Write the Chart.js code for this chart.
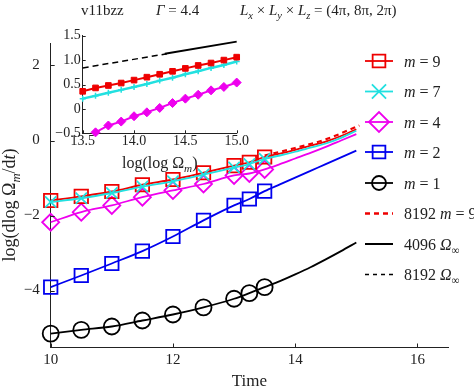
<!DOCTYPE html>
<html>
<head>
<meta charset="utf-8">
<script src="https://cdn.jsdelivr.net/npm/chart.js@4"></script>
<style>
  body { margin: 0; background: #fff; }
  #wrap { position: relative; width: 474px; height: 390px; }
  #wrap canvas { position: absolute; left: 0; top: 0; }
</style>
</head>
<body>
<div id="wrap">
  <canvas id="main" width="474" height="390"></canvas>
  <canvas id="inset" width="474" height="390"></canvas>
</div>
<script>
// ---- main panel data (marker points first, then the rest of the curve) ----
const timeMarks = [10, 10.5, 11, 11.5, 12, 12.5, 13, 13.25, 13.5, 13.75, 14, 14.25, 14.5, 14.75, 15];
const nMarked = 9;
const m9 = [-1.60, -1.49, -1.36, -1.18, -1.04, -0.86, -0.67, -0.58, -0.44, -0.35, -0.25, -0.14, -0.03, 0.12, 0.30];
const m7 = [-1.64, -1.54, -1.40, -1.23, -1.09, -0.91, -0.72, -0.63, -0.49, -0.40, -0.30, -0.19, -0.08, 0.07, 0.26];
const m4 = [-2.18, -1.91, -1.73, -1.51, -1.33, -1.16, -0.93, -0.88, -0.77, -0.63, -0.48, -0.33, -0.17, 0.00, 0.17];
const m2 = [-3.91, -3.60, -3.28, -2.95, -2.56, -2.13, -1.73, -1.56, -1.35, -1.17, -0.99, -0.81, -0.63, -0.45, -0.27];
const m1 = [-5.15, -5.05, -4.96, -4.80, -4.64, -4.45, -4.22, -4.07, -3.91, -3.75, -3.57, -3.38, -3.17, -2.95, -2.72];
const hiResTime = [13.5, 14, 14.5, 15.05];
const hiResM9 = [-0.40, -0.20, 0.03, 0.40];

// ---- inset data ----
const insetX = [13.5, 13.625, 13.75, 13.875, 14.0, 14.125, 14.25, 14.375, 14.5, 14.625, 14.75, 14.875, 15.0];
const insetM9 = [0.36, 0.43, 0.48, 0.53, 0.59, 0.65, 0.71, 0.77, 0.83, 0.89, 0.94, 1.00, 1.06];
const insetM7 = [0.21, 0.27, 0.33, 0.39, 0.45, 0.51, 0.58, 0.64, 0.71, 0.77, 0.84, 0.90, 0.97];
const insetM4X = [13.625, 13.75, 13.875, 14.0, 14.125, 14.25, 14.375, 14.5, 14.625, 14.75, 14.875, 15.0];
const insetM4 = [-0.48, -0.34, -0.26, -0.15, -0.07, 0.02, 0.12, 0.21, 0.29, 0.38, 0.45, 0.54];
const omegaDashX = [13.5, 14.32];
const omegaDash = [0.84, 1.13];
const omegaSolidX = [14.3, 15.0];
const omegaSolid = [1.13, 1.38];

const SERIF = '"Liberation Serif", "DejaVu Serif", serif';
const INK = '#222';

function pts(xs, ys) {
  return xs.map((x, i) => ({ x: x, y: ys[i] }));
}

function minus(v, digits) {
  const s = digits ? Math.abs(v).toFixed(digits) : String(Math.abs(v));
  if (Math.abs(v) < 1e-9) return '0';
  return v < 0 ? '\u2212' + s : s;
}

// text made of pieces: [text, style] where style is '', 'i', 'sub' or 'isub'
function runsWidth(ctx, runs, size) {
  let w = 0;
  for (const [t, s] of runs) {
    const fs = s.includes('sub') ? size * 0.7 : size;
    ctx.font = (s.includes('i') ? 'italic ' : '') + fs + 'px ' + SERIF;
    w += ctx.measureText(t).width;
  }
  return w;
}

function drawRuns(ctx, runs, x, y, size) {
  let cx = x;
  ctx.textAlign = 'left';
  ctx.textBaseline = 'alphabetic';
  for (const [t, s] of runs) {
    const sub = s.includes('sub');
    const fs = sub ? size * 0.7 : size;
    ctx.font = (s.includes('i') ? 'italic ' : '') + fs + 'px ' + SERIF;
    ctx.fillText(t, cx, y + (sub ? size * 0.25 : 0));
    cx += ctx.measureText(t).width;
  }
  return cx;
}

// MATLAB style ticks pointing into the plot
const inTicks = {
  id: 'inTicks',
  afterDraw(chart, args, opts) {
    const ctx = chart.ctx;
    const area = chart.chartArea;
    const xs = chart.scales.x, ys = chart.scales.y;
    const len = opts.len || 4;
    ctx.save();
    ctx.strokeStyle = INK;
    ctx.lineWidth = 1;
    ctx.beginPath();
    xs.ticks.forEach(t => {
      const px = Math.round(xs.getPixelForValue(t.value)) + 0.5;
      ctx.moveTo(px, area.bottom);
      ctx.lineTo(px, area.bottom - len);
    });
    ys.ticks.forEach(t => {
      const py = Math.round(ys.getPixelForValue(t.value)) + 0.5;
      ctx.moveTo(area.left, py);
      ctx.lineTo(area.left + len, py);
    });
    ctx.stroke();
    ctx.restore();
  }
};

// legend entries for the right hand side
const legendItems = [
  { color: '#ee0000', style: 'rect', r: 9, dash: [], lw: 1.8, text: [['m', 'i'], [' = 9', '']] },
  { color: '#22e0e0', style: 'crossRot', r: 10, dash: [], lw: 1.8, text: [['m', 'i'], [' = 7', '']] },
  { color: '#ee00ee', style: 'rectRot', r: 10, dash: [], lw: 1.8, text: [['m', 'i'], [' = 4', '']] },
  { color: '#0000ee', style: 'rect', r: 9, dash: [], lw: 1.8, text: [['m', 'i'], [' = 2', '']] },
  { color: '#000000', style: 'circle', r: 7, dash: [], lw: 1.8, text: [['m', 'i'], [' = 1', '']] },
  { color: '#ee0000', style: null, r: 0, dash: [5, 4], lw: 2.6, text: [['8192 ', ''], ['m', 'i'], [' = 9', '']] },
  { color: '#000000', style: null, r: 0, dash: [], lw: 2, text: [['4096 ', ''], ['\u03A9', 'i'], ['\u221E', 'sub']] },
  { color: '#000000', style: null, r: 0, dash: [4, 4], lw: 1.5, text: [['8192 ', ''], ['\u03A9', 'i'], ['\u221E', 'sub']] }
];
const legendY = [61, 91.5, 122, 152, 183, 213.5, 244, 274.5];

const mainText = {
  id: 'mainText',
  afterDraw(chart) {
    const ctx = chart.ctx;
    ctx.save();
    ctx.fillStyle = INK;

    // title
    drawRuns(ctx, [['v11bzz', '']], 81, 15, 15);
    drawRuns(ctx, [['\u0393', 'i'], [' = 4.4', '']], 156, 15, 15);
    drawRuns(ctx, [['L', 'i'], ['x', 'isub'], [' \u00D7 ', ''], ['L', 'i'], ['y', 'isub'], [' \u00D7 ', ''],
      ['L', 'i'], ['z', 'isub'], [' = (4\u03C0, 8\u03C0, 2\u03C0)', '']], 240, 15, 15);

    // x title
    const xt = [['Time', '']];
    drawRuns(ctx, xt, (chart.chartArea.left + chart.chartArea.right) / 2 - runsWidth(ctx, xt, 17) / 2, 386, 17);

    // y title
    const yt = [['log(dlog \u03A9', ''], ['m', 'isub'], ['/d', ''], ['t', 'i'], [')', '']];
    ctx.save();
    ctx.translate(15, 205);
    ctx.rotate(-Math.PI / 2);
    drawRuns(ctx, yt, -runsWidth(ctx, yt, 18) / 2, 0, 18);
    ctx.restore();

    // legend
    legendItems.forEach((it, i) => {
      const y = legendY[i];
      ctx.save();
      ctx.strokeStyle = it.color;
      ctx.lineWidth = it.lw;
      ctx.setLineDash(it.dash);
      ctx.beginPath();
      ctx.moveTo(365, y);
      ctx.lineTo(393, y);
      ctx.stroke();
      ctx.setLineDash([]);
      if (it.style) {
        ctx.fillStyle = 'rgba(0,0,0,0)';
        ctx.lineWidth = 1.8;
        Chart.helpers.drawPoint(ctx, { pointStyle: it.style, radius: it.r, rotation: 0, borderWidth: 1.8 }, 379, y);
      }
      ctx.restore();
      ctx.fillStyle = INK;
      drawRuns(ctx, it.text, 404, y + 5.5, 16);
    });
    ctx.restore();
  }
};

const insetText = {
  id: 'insetText',
  afterDraw(chart) {
    const ctx = chart.ctx;
    ctx.save();
    ctx.fillStyle = INK;
    const xl = [['log(log \u03A9', ''], ['m', 'isub'], [')', '']];
    const cx = (chart.chartArea.left + chart.chartArea.right) / 2;
    drawRuns(ctx, xl, cx - runsWidth(ctx, xl, 16) / 2, 168, 16);
    ctx.restore();
  }
};

function mainSet(values, color, style, r) {
  return {
    data: pts(timeMarks, values),
    borderColor: color,
    borderWidth: 1.8,
    pointStyle: style,
    pointRadius: c => (c.dataIndex < nMarked ? r : 0),
    pointBorderColor: color,
    pointBackgroundColor: 'rgba(0,0,0,0)',
    pointBorderWidth: 1.8,
    pointHoverRadius: 0,
    cubicInterpolationMode: 'monotone',
    clip: false,
    fill: false
  };
}

const axisBase = {
  type: 'linear',
  grid: { drawOnChartArea: false, drawTicks: false },
  border: { display: true, color: INK, width: 1 }
};

new Chart(document.getElementById('main').getContext('2d'), {
  type: 'line',
  data: {
    datasets: [
      mainSet(m7, '#22e0e0', 'crossRot', 8),
      mainSet(m9, '#ee0000', 'rect', 9.5),
      mainSet(m4, '#ee00ee', 'rectRot', 8.5),
      mainSet(m2, '#0000ee', 'rect', 9.5),
      mainSet(m1, '#000000', 'circle', 8),
      {
        data: pts(hiResTime, hiResM9),
        borderColor: '#ee0000',
        borderWidth: 2.2,
        borderDash: [5, 4],
        pointRadius: 0,
        cubicInterpolationMode: 'monotone',
        clip: false,
        fill: false
      }
    ]
  },
  options: {
    responsive: false,
    animation: false,
    events: [],
    layout: { padding: { left: 0, right: 26, top: 43, bottom: 0 } },
    scales: {
      x: Object.assign({}, axisBase, {
        min: 10, max: 16.5,
        afterFit: s => { s.height = 42.5; },
        ticks: { stepSize: 2, includeBounds: false, padding: 4, color: INK, font: { family: SERIF, size: 15 } }
      }),
      y: Object.assign({}, axisBase, {
        min: -5.52, max: 2.6,
        afterFit: s => { s.width = 50.7; },
        ticks: { stepSize: 2, includeBounds: false, padding: 11, color: INK, font: { family: SERIF, size: 15 },
          callback: v => minus(v) }
      })
    },
    plugins: { legend: { display: false }, tooltip: { enabled: false }, inTicks: { len: 4 } }
  },
  plugins: [inTicks, mainText]
});

new Chart(document.getElementById('inset').getContext('2d'), {
  type: 'line',
  data: {
    datasets: [
      {
        data: pts(insetX, insetM9),
        borderColor: '#ee0000', borderWidth: 2,
        pointStyle: 'rect', pointRadius: 4, pointBackgroundColor: '#ee0000', pointBorderColor: '#ee0000',
        pointBorderWidth: 1, pointHoverRadius: 0, clip: false
      },
      {
        data: pts(insetX, insetM7),
        borderColor: '#22e0e0', borderWidth: 2.5,
        pointStyle: 'cross', pointRadius: 3, pointBorderColor: '#22e0e0',
        pointBorderWidth: 1.5, pointHoverRadius: 0, clip: false
      },
      {
        data: pts(insetM4X, insetM4),
        borderColor: '#ee00ee', borderWidth: 2,
        pointStyle: 'rectRot', pointRadius: 4.5, pointBackgroundColor: '#ee00ee', pointBorderColor: '#ee00ee',
        pointBorderWidth: 1, pointHoverRadius: 0, clip: false
      },
      {
        data: pts(omegaDashX, omegaDash),
        borderColor: '#000000', borderWidth: 1.5, borderDash: [6, 4],
        pointRadius: 0, clip: false
      },
      {
        data: pts(omegaSolidX, omegaSolid),
        borderColor: '#000000', borderWidth: 1.8,
        pointRadius: 0, clip: false
      }
    ]
  },
  options: {
    responsive: false,
    animation: false,
    events: [],
    layout: { padding: { left: 0, right: 237.3, top: 35.7, bottom: 0 } },
    scales: {
      x: Object.assign({}, axisBase, {
        min: 13.5, max: 15.0,
        afterFit: s => { s.height = 256.7; },
        ticks: { stepSize: 0.5, includeBounds: false, padding: 0, color: INK, font: { family: SERIF, size: 14 },
          callback: v => v.toFixed(1) }
      }),
      y: Object.assign({}, axisBase, {
        min: -0.5, max: 1.5,
        afterFit: s => { s.width = 82.7; },
        ticks: { stepSize: 0.5, includeBounds: false, padding: 2, color: INK, font: { family: SERIF, size: 14 },
          callback: v => minus(v, 1) }
      })
    },
    plugins: { legend: { display: false }, tooltip: { enabled: false }, inTicks: { len: 3 } }
  },
  plugins: [inTicks, insetText]
});
</script>
</body>
</html>
